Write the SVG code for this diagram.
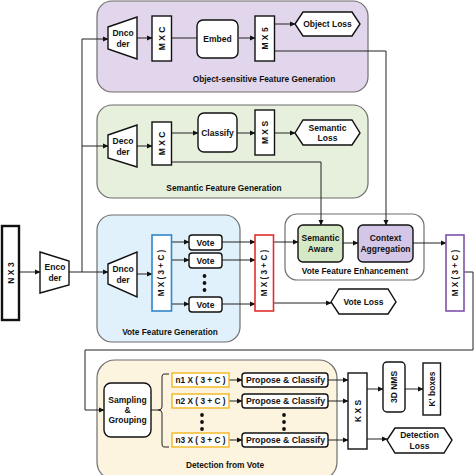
<svg xmlns="http://www.w3.org/2000/svg" width="474" height="475" viewBox="0 0 474 475">
<defs>
<marker id="ah" markerWidth="6" markerHeight="6" refX="5" refY="3" orient="auto" markerUnits="userSpaceOnUse">
<path d="M0,0.5 L5.5,3 L0,5.5 z" fill="#111"/>
</marker>
<style>
text{font-family:"Liberation Sans",Arial,sans-serif;font-weight:bold;fill:#111;text-anchor:middle;dominant-baseline:central}
.t{font-size:8.5px}
.g{font-size:8.3px}
.s{font-size:8.2px}
.n{font-size:8.3px}
.p{font-size:8.7px}
.grp{stroke:#6f6f6f;stroke-width:1.2}
.bx{fill:#fff;stroke:#111;stroke-width:1.4}
.c{fill:none;stroke:#222;stroke-width:1}
.a{marker-end:url(#ah)}
.dot{fill:#111}
</style>
</defs>
<rect width="474" height="475" fill="#fff"/>

<!-- containers -->
<g id="object-group"><rect x="97" y="1" width="271" height="91" rx="15" class="grp" fill="#e2d6ec"/><text class="g" x="264" y="79">Object-sensitive Feature Generation</text></g>
<g id="semantic-group"><rect x="97" y="105" width="271" height="93" rx="15" class="grp" fill="#e6f0dd"/><text class="g" x="224" y="188">Semantic Feature Generation</text></g>
<g id="vote-group"><rect x="97" y="215" width="143" height="127" rx="15" class="grp" fill="#e0f1fb"/><text class="g" x="170" y="332">Vote Feature Generation</text></g>
<g id="enh-group"><rect x="285" y="214" width="139" height="66" rx="12" class="grp" fill="#fff"/><text class="g" x="355" y="271">Vote Feature Enhancement</text></g>
<g id="det-group"><rect x="97" y="360" width="240" height="120" rx="18" class="grp" fill="#fdf4df"/><text class="g" x="225" y="465">Detection from Vote</text></g>

<!-- connectors -->
<g id="connectors">
<path class="c a" d="M19,272 H40"/>
<path class="c a" d="M69,272 H108"/>
<path class="c" d="M82,272 V39"/>
<path class="c a" d="M82,39 H108"/>
<path class="c a" d="M82,146 H108"/>
<path class="c a" d="M137,38 H152"/>
<path class="c" d="M172,38 H197"/>
<path class="c a" d="M239,38 H255"/>
<path class="c a" d="M274,24 H295"/>
<path class="c a" d="M274,51 H386 V225"/>
<path class="c a" d="M137,146 H152"/>
<path class="c a" d="M171,133 H198"/>
<path class="c a" d="M237,133 H255"/>
<path class="c a" d="M274,133 H295"/>
<path class="c a" d="M171,162 H321 V225"/>
<path class="c a" d="M137,274 H152"/>
<path class="c a" d="M171,242 H189"/>
<path class="c a" d="M171,260 H189"/>
<path class="c a" d="M171,304 H189"/>
<path class="c a" d="M222,242 H255"/>
<path class="c a" d="M222,260 H255"/>
<path class="c a" d="M222,304 H255"/>
<path class="c a" d="M273,242 H298"/>
<path class="c a" d="M343,243 H358"/>
<path class="c a" d="M413,243 H446"/>
<path class="c a" d="M273,303 H331"/>
<path class="c a" d="M464,272 H473 V350 H85 V410 H104"/>
<path class="c" d="M151,410 H158"/>
<path class="c" d="M169,374 H164 Q162,374 162,377 V407 Q162,410 158,410 Q162,410 162,413 V444 Q162,447 164,447 H169"/>
<path class="c a" d="M229,380 H242"/>
<path class="c a" d="M229,401 H242"/>
<path class="c a" d="M229,440 H242"/>
<path class="c a" d="M328,380 H348"/>
<path class="c a" d="M328,401 H348"/>
<path class="c a" d="M328,440 H348"/>
<path class="c a" d="M367,389 H383"/>
<path class="c a" d="M405,389 H423"/>
<path class="c a" d="M367,439 H387"/>
</g>

<!-- nodes -->
<g id="nx3"><rect x="2" y="226" width="17" height="94" fill="#fff" stroke="#111" stroke-width="2.4"/><text class="t" transform="translate(10.5,273) rotate(-90)">N X 3</text></g>
<g id="encoder"><path d="M40,252 L69,261 L69,285 L40,293 z" class="bx"/><text class="t" x="55" y="267">Enco</text><text class="t" x="55" y="278">der</text></g>

<g id="dec1"><path d="M108,27 L137,17 L137,59 L108,49 z" class="bx"/><text class="t" x="123" y="33">Dnco</text><text class="t" x="123" y="44">der</text></g>
<g id="mxc1"><rect x="152" y="16" width="19.5" height="45" class="bx"/><text class="t" transform="translate(161.8,38.5) rotate(-90)">M X C</text></g>
<g id="embed"><rect x="197" y="20" width="41" height="38" rx="6" class="bx"/><text class="t" x="217.5" y="39">Embed</text></g>
<g id="mx5"><rect x="255" y="16" width="19.5" height="45" class="bx"/><text class="t" transform="translate(264.8,38.5) rotate(-90)">M X 5</text></g>
<g id="objloss"><path d="M295,24 L303,12 L352,12 L360,24 L352,36 L303,36 z" class="bx"/><text class="t" x="327.5" y="24">Object Loss</text></g>

<g id="dec2"><path d="M108,135 L137,125 L137,167 L108,158 z" class="bx"/><text class="t" x="123" y="141">Deco</text><text class="t" x="123" y="152">der</text></g>
<g id="mxc2"><rect x="152" y="122" width="19.5" height="43" class="bx"/><text class="t" transform="translate(161.8,143.5) rotate(-90)">M X C</text></g>
<g id="classify"><rect x="198" y="113" width="39" height="39" rx="6" class="bx"/><text class="t" x="217.5" y="132.5">Classify</text></g>
<g id="mxs"><rect x="255" y="110" width="19.5" height="45" class="bx"/><text class="t" transform="translate(264.8,132.5) rotate(-90)">M X S</text></g>
<g id="semloss"><path d="M295,133 L303,120 L352,120 L360,133 L352,145 L303,145 z" class="bx"/><text class="t" x="327.5" y="127.5">Semantic</text><text class="t" x="327.5" y="138">Loss</text></g>

<g id="dec3"><path d="M108,264 L137,252 L137,297 L108,284 z" class="bx"/><text class="t" x="123" y="268.5">Dnco</text><text class="t" x="123" y="279.5">der</text></g>
<g id="mx3c-blue"><rect x="152" y="235" width="19.5" height="76" fill="#fff" stroke="#2f86cc" stroke-width="1.6"/><text class="s" transform="translate(161.8,273) rotate(-90)">M X ( 3 + C )</text></g>
<g id="vote1"><rect x="189" y="235" width="33" height="15" rx="3" class="bx"/><text class="t" x="205.5" y="242.5">Vote</text></g>
<g id="vote2"><rect x="189" y="253" width="33" height="15" rx="3" class="bx"/><text class="t" x="205.5" y="260.5">Vote</text></g>
<g id="vote-dots"><circle class="dot" cx="204.5" cy="276" r="1.9"/><circle class="dot" cx="204.5" cy="283" r="1.9"/><circle class="dot" cx="204.5" cy="290" r="1.9"/></g>
<g id="vote3"><rect x="189" y="297" width="33" height="15" rx="3" class="bx"/><text class="t" x="205.5" y="304.5">Vote</text></g>
<g id="mx3c-red"><rect x="255" y="235" width="18.5" height="76" fill="#fff" stroke="#e0302c" stroke-width="1.6"/><text class="s" transform="translate(264.2,273) rotate(-90)">M X ( 3 + C )</text></g>
<g id="semaware"><rect x="298" y="225" width="45" height="37" rx="5" fill="#d6e9c6" stroke="#111" stroke-width="1.4"/><text class="t" x="320.5" y="238">Semantic</text><text class="t" x="320.5" y="249">Aware</text></g>
<g id="ctxagg"><rect x="358" y="225" width="55" height="37" rx="5" fill="#d4c6e6" stroke="#111" stroke-width="1.4"/><text class="t" x="385.5" y="238">Context</text><text class="t" x="385.5" y="249">Aggregation</text></g>
<g id="voteloss"><path d="M331,302 L339,289 L388,289 L396,302 L388,314 L339,314 z" class="bx"/><text class="t" x="363.5" y="301.5">Vote Loss</text></g>
<g id="mx3c-purple"><rect x="446" y="235" width="18" height="76" fill="#fff" stroke="#7f52ad" stroke-width="1.6"/><text class="s" transform="translate(455,273) rotate(-90)">M X ( 3 + C )</text></g>

<g id="sampling"><rect x="104" y="383" width="47" height="54" rx="7" class="bx"/><text class="t" x="127.5" y="400">Sampling</text><text class="t" x="127.5" y="410">&amp;</text><text class="t" x="127.5" y="420">Grouping</text></g>
<g id="n1"><rect x="172" y="373" width="57" height="14" fill="#fff" stroke="#f2b71e" stroke-width="1.4"/><text class="n" x="200.5" y="380">n1 X ( 3 + C )</text></g>
<g id="n2"><rect x="172" y="394" width="57" height="14" fill="#fff" stroke="#f2b71e" stroke-width="1.4"/><text class="n" x="200.5" y="401">n2 X ( 3 + C )</text></g>
<g id="n-dots"><circle class="dot" cx="202" cy="415" r="1.9"/><circle class="dot" cx="202" cy="422" r="1.9"/><circle class="dot" cx="202" cy="429" r="1.9"/></g>
<g id="n3"><rect x="172" y="433" width="57" height="14" fill="#fff" stroke="#f2b71e" stroke-width="1.4"/><text class="n" x="200.5" y="440">n3 X ( 3 + C )</text></g>
<g id="pc1"><rect x="242" y="373" width="86" height="14" rx="3" class="bx"/><text class="p" x="285.5" y="380">Propose &amp; Classify</text></g>
<g id="pc2"><rect x="242" y="394" width="86" height="14" rx="3" class="bx"/><text class="p" x="285.5" y="401">Propose &amp; Classify</text></g>
<g id="pc-dots"><circle class="dot" cx="284" cy="415" r="1.9"/><circle class="dot" cx="284" cy="422" r="1.9"/><circle class="dot" cx="284" cy="429" r="1.9"/></g>
<g id="pc3"><rect x="242" y="433" width="86" height="14" rx="3" class="bx"/><text class="p" x="285.5" y="440">Propose &amp; Classify</text></g>
<g id="kxs"><rect x="348" y="373" width="19" height="76" class="bx"/><text class="t" transform="translate(357.5,411) rotate(-90)">K X S</text></g>
<g id="nms"><rect x="383" y="362" width="22" height="50" rx="4" class="bx"/><text class="t" transform="translate(394,387) rotate(-90)">3D NMS</text></g>
<g id="kboxes"><rect x="423" y="363" width="17.5" height="52" class="bx"/><text class="t" transform="translate(431.8,389) rotate(-90)">K' boxes</text></g>
<g id="detloss"><path d="M387,440 L395,428 L444,428 L452,440 L444,453 L395,453 z" class="bx"/><text class="t" x="419.5" y="435">Detection</text><text class="t" x="419.5" y="446">Loss</text></g>
</svg>
